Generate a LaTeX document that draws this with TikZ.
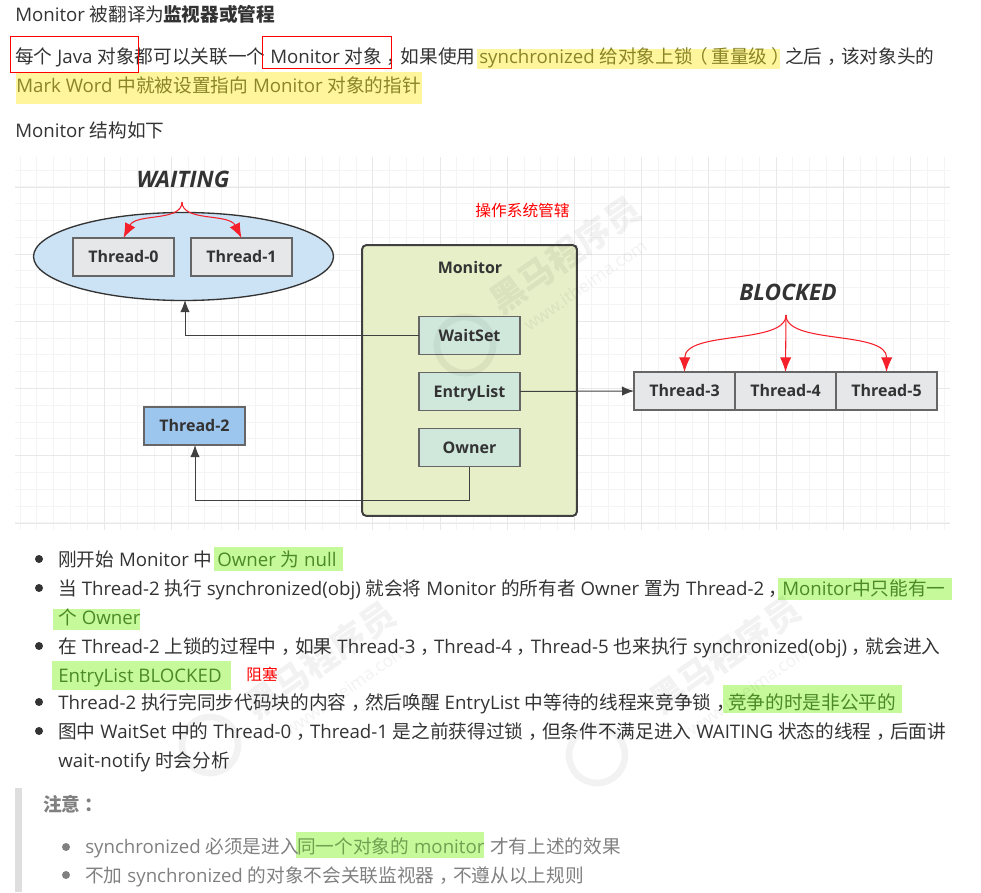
\documentclass[tikz,border=0pt]{standalone}
\usepackage{fontspec}
\usepackage{tikz}
\usetikzlibrary{arrows.meta,positioning,shapes.geometric}
\setmainfont{Open Sans}
\newfontfamily\zhfont{Noto Sans CJK SC}
\newcommand{\zh}[1]{{\zhfont #1}}
\newcommand{\punct}[2]{{\zhfont\hbox to 1em{\kern#1em\char"#2\hss}}}
\catcode`，=13 \protected\def，{\punct{.25}{FF0C}}
\catcode`：=13 \protected\def：{\punct{.2}{FF1A}}
\catcode`（=13 \protected\def（{\punct{-.2}{FF08}}
\catcode`）=13 \protected\def）{\punct{.2}{FF09}}
\definecolor{bodygray}{HTML}{333333}
\definecolor{notegray}{HTML}{808080}
\definecolor{hlyellow}{HTML}{FFF59D}
\definecolor{hlolive}{HTML}{8A8526}
\definecolor{hlgreen}{HTML}{C5F99A}
\definecolor{hlleaf}{HTML}{4B8A25}
\definecolor{gridminor}{HTML}{F4F4F4}
\definecolor{gridmajor}{HTML}{E8E8E8}
\definecolor{threadgray}{HTML}{E6E7E8}
\definecolor{waitblue}{HTML}{CCE2F5}
\definecolor{ownerblue}{HTML}{9DC6EE}
\definecolor{monitorgreen}{HTML}{E6EFC8}
\definecolor{slotgreen}{HTML}{D0E8DC}
\definecolor{wakered}{HTML}{F5202A}

\begin{document}
\begin{tikzpicture}[x=0.75pt,y=-0.75pt,
    txt/.style={anchor=base west,inner sep=0pt,yshift=-0.8pt,text=bodygray,font=\fontsize{14}{17}\selectfont},
    olive/.style={txt,text=hlolive},
    leaf/.style={txt,text=hlleaf},
    note/.style={txt,text=notegray},
    redbox/.style={draw=red,line width=0.75pt},
    dot/.style={circle,fill=#1,inner sep=0pt,minimum size=6pt},
    thread/.style={draw=black!60,fill=#1,line width=0.9pt,minimum width=75.75pt,minimum height=28.5pt,outer sep=0pt,inner sep=0pt,text height=8.6pt,text depth=0pt,font=\fontsize{12}{14}\selectfont\bfseries,text=black!80},
    state/.style={font=\fontsize{17}{20}\selectfont\bfseries\itshape,text=black!80},
    link/.style={draw=black!75,line width=0.75pt,-{Latex[length=9pt,width=7pt]}},
    wake/.style={draw=wakered,line width=0.8pt,-{Latex[length=11pt,width=8.5pt]}},
    redtext/.style={text=red,font=\zhfont\fontsize{11.8}{14}\selectfont,inner sep=0pt},
    stamp/.style={text=black,text opacity=0.05,rotate=35,inner sep=0pt},
    stampring/.style={circle,draw=black,draw opacity=0.05,line width=5pt,minimum size=42pt}]
\useasboundingbox (0,0) rectangle (981,892);

\foreach \gy in {0,...,21}
    \draw[gridminor,line width=0.75pt] (15,170+\gy*16.8) -- (950,170+\gy*16.8);
\foreach \gx in {0,...,55}
    \draw[gridminor,line width=0.75pt] (20+\gx*16.8,157) -- (20+\gx*16.8,530);
\foreach \gy in {0,...,5}
    \draw[gridmajor,line width=0.75pt] (15,187+\gy*67.2) -- (950,187+\gy*67.2);
\foreach \gx in {0,...,12}
    \draw[gridmajor,line width=0.75pt] (104+\gx*67.2,157) -- (104+\gx*67.2,530);

\fill[hlyellow] (477,49) rectangle (780,69);
\fill[hlyellow] (16,72) rectangle (422,104);
\fill[hlgreen] (214,547) rectangle (343,571);
\fill[hlgreen] (778,578) rectangle (952,600);
\fill[hlgreen] (53,609) rectangle (140,630);
\fill[hlgreen] (52,661) rectangle (231,690);
\fill[hlgreen] (723,685) rectangle (902,713);
\fill[hlgreen] (296,832) rectangle (484,858);
\fill[black!13] (15,788) rectangle (22,892);

\node[txt] (introA) at (15,20) {Monitor \zh{被翻译为}};
\node[txt] (introB) at (163,20) {\zh{\bfseries 监视器或管程}};
\node[txt] (lineA) at (15,62) {\zh{每个} Java \zh{对象都可以关联一个}};
\node[txt] (lineB) at (270,62) {Monitor \zh{对象}};
\node[txt] (lineC) at (382,62) {\zh{，如果使用}};
\node[olive] (lineD) at (479,62) {synchronized \zh{给对象上锁（重量级）}};
\node[txt] (lineE) at (785,62) {\zh{之后，该对象头的}};
\node[olive] (lineF) at (16,91.5) {Mark Word \zh{中就被设置指向} Monitor \zh{对象的指针}};
\node[txt] (lineG) at (15,136.5) {Monitor \zh{结构如下}};
\draw[redbox] (10,37) rectangle (138,73);
\draw[redbox] (262,37) rectangle (391,69);

\node[ellipse,draw=black!80,fill=waitblue,line width=1pt,minimum width=225pt,minimum height=66pt,inner sep=0pt,outer sep=0pt] (wait) at (183.5,256.5) {};
\node[state] (waiting) at (183,179) {WAITING};
\node[thread=threadgray] (t0) at (123.5,257) {Thread-0};
\node[thread=threadgray,right=12.75pt of t0] (t1) {Thread-1};
\coordinate (waitfork) at (182,202);
\draw[wake] (waitfork) .. controls (182,222) and (136,213) .. (t0.north);
\draw[wake] (waitfork) .. controls (182,222) and (229,213) .. (t1.north);

\node[draw=black!75,fill=monitorgreen,line width=1.5pt,rounded corners=3pt,minimum width=161pt,minimum height=203pt,inner sep=0pt,outer sep=0pt] (monitor) at (469.5,380.5) {};
\node[font=\fontsize{12}{14}\selectfont\bfseries,text=black!80] (monitortitle) at (470,267) {Monitor};
\node[thread=slotgreen] (waitset) at (469.5,335.5) {WaitSet};
\node[thread=slotgreen] (entrylist) at (469.5,391.5) {EntryList};
\node[thread=slotgreen] (owner) at (469.5,447.5) {Owner};

\node[thread=ownerblue] (t2) at (194.5,426) {Thread-2};

\node[thread=threadgray] (t3) at (684.5,391) {Thread-3};
\node[thread=threadgray,right=0pt of t3] (t4) {Thread-4};
\node[thread=threadgray,right=0pt of t4] (t5) {Thread-5};
\node[state] (blocked) at (788,292) {BLOCKED};
\coordinate (blockfork) at (786,315);
\draw[wake] (blockfork) .. controls (786,345) and (685,330) .. (t3.north);
\draw[wake] (blockfork) -- (t4.north);
\draw[wake] (blockfork) .. controls (786,345) and (887,330) .. (t5.north);

\draw[link] (waitset.west) -| (185,300);
\draw[link] (entrylist.east) -- (t3.west);
\draw[link] (owner.south) |- (195,500) -- (195,445);

\node[redtext] (guard) at (522.5,210) {操作系统管辖};

\foreach \by/\bn in {559/a,588/b,646/c,702/d,731/e}
    \node[dot=bodygray] (bullet\bn) at (39,\by) {};
\foreach \by/\bn in {847/f,875/g}
    \node[dot=notegray] (bullet\bn) at (66,\by) {};

\node[txt] (itemA) at (58,565) {\zh{刚开始} Monitor \zh{中}};
\node[leaf] (itemB) at (217,565) {Owner \zh{为} null};
\node[txt] (itemC) at (58,594) {\zh{当} Thread-2 \zh{执行} synchronized(obj) \zh{就会将} Monitor \zh{的所有者} Owner \zh{置为} Thread-2，};
\node[leaf] (itemD) at (782,594) {Monitor\zh{中只能有一}};
\node[leaf] (itemE) at (58,623.5) {\zh{个} Owner};
\node[txt] (itemF) at (58,652) {\zh{在} Thread-2 \zh{上锁的过程中，如果} Thread-3，Thread-4，Thread-5 \zh{也来执行} synchronized(obj)，\zh{就会进入}};
\node[leaf] (itemG) at (58,681) {EntryList BLOCKED};
\node[redtext,anchor=west] (blockword) at (246,674) {阻塞};
\node[txt] (itemH) at (58,708.5) {Thread-2 \zh{执行完同步代码块的内容，然后唤醒} EntryList \zh{中等待的线程来竞争锁，}};
\node[leaf] (itemI) at (728,708.5) {\zh{竞争的时是非公平的}};
\node[txt] (itemJ) at (58,737.5) {\zh{图中} WaitSet \zh{中的} Thread-0，Thread-1 \zh{是之前获得过锁，但条件不满足进入} WAITING \zh{状态的线程，后面讲}};
\node[txt] (itemK) at (58,766.5) {wait-notify \zh{时会分析}};

\node[note] (noteA) at (43,810) {\zh{\bfseries 注意：}};
\node[note] (noteB) at (85,852) {synchronized \zh{必须是进入}};
\node[leaf,text=hlleaf!80] (noteC) at (297,852) {\zh{同一个对象的} monitor};
\node[note] (noteD) at (490,852) {\zh{才有上述的效果}};
\node[note] (noteE) at (85,881) {\zh{不加} synchronized \zh{的对象不会关联监视器，不遵从以上规则}};

\foreach \sx/\sy/\sn in {565/255/a,320/660/b,725/655/c}
    \node[stamp,font=\zhfont\bfseries\fontsize{26}{30}\selectfont] (stamp\sn) at (\sx,\sy) {黑马程序员};
\foreach \sx/\sy/\sn in {585/285/a,345/690/b,748/690/c}
    \node[stamp,font=\fontsize{13}{15}\selectfont] (site\sn) at (\sx,\sy) {www.itheima.com};
\foreach \sx/\sy/\sn in {465/345/a,210/745/b,597/755/c}
    \node[stampring] (ring\sn) at (\sx,\sy) {};
\end{tikzpicture}
\end{document}
